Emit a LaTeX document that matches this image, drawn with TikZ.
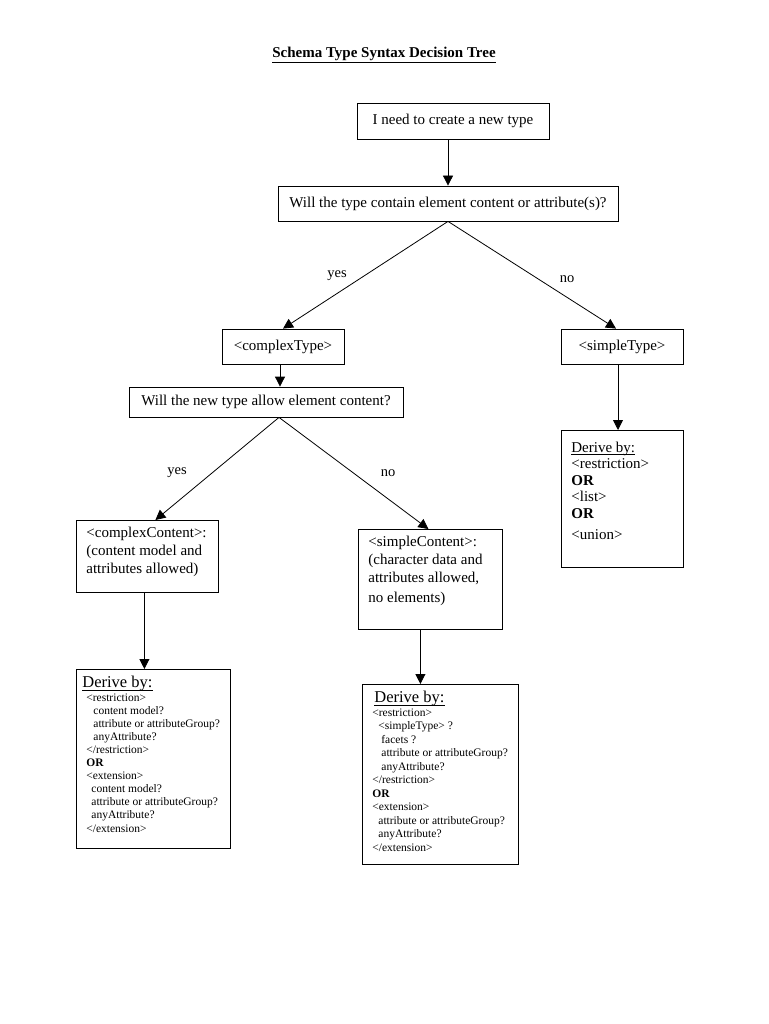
\documentclass[tikz,border=0pt]{standalone}
\usepackage{fontspec}
\setmainfont{Liberation Serif}
\usetikzlibrary{arrows.meta}
\newcommand{\boxpar}[3]{\parbox[c][#2][t]{#1}{\raggedright #3}}
\newcommand{\derivehead}{\setbox0\hbox{Derive by:}\rlap{\rule[-2.6pt]{\wd0}{0.6pt}}\raisebox{0pt}[\ht0][0pt]{\box0}}

\begin{document}
\begin{tikzpicture}[x=1pt, y=-1pt,
    box/.style={draw, line width=0.8pt, font=\fontsize{15}{18}\selectfont},
    tall/.style={box, anchor=north west, inner xsep=10pt, inner ysep=0pt},
    arr/.style={line width=0.8pt, -{Triangle[length=10pt,width=10pt]}},
    lbl/.style={font=\fontsize{14.5}{14.5}\selectfont}]
    \useasboundingbox (0,0) rectangle (768,1024);
    \node (title) at (384,55) {\fontsize{15}{18}\selectfont\textbf{\underline{Schema Type Syntax Decision Tree}}};
    \node[box, minimum width=192pt, minimum height=36pt] (need) at (453,121) {I need to create a new type};
    \node[box, minimum width=340pt, minimum height=35pt] (contain) at (448,203.5) {Will the type contain element content or attribute(s)?};
    \node[box, minimum width=122pt, minimum height=35pt] (ctype) at (283,346.5) {<complexType>};
    \node[box, minimum width=122pt, minimum height=35pt] (stype) at (622,346.5) {<simpleType>};
    \node[box, minimum width=274pt, minimum height=30pt] (allow) at (266,402) {Will the new type allow element content?};
    \node[tall] (ccont) at (76,520) {\boxpar{122pt}{72pt}{\rule{0pt}{17pt}<complexContent>:\\(content model and\\attributes allowed)}};
    \node[tall] (scont) at (358,529) {\boxpar{124pt}{100pt}{\rule{0pt}{17pt}<simpleContent>:\\(character data and\\attributes allowed,\\[2pt]no elements)}};
    \node[tall, inner xsep=10pt] (derC) at (561,430) {\boxpar{102pt}{137pt}{\fontsize{15}{16.5}\selectfont
        \rule{0pt}{22pt}\derivehead\\
        <restriction>\\
        \textbf{OR}\\
        <list>\\
        \textbf{OR}\\[5pt]
        <union>}};
    \node[tall, inner xsep=6pt] (derA) at (76,669) {\boxpar{142pt}{179pt}{%
        {\fontsize{16.5}{17}\selectfont\rule{0pt}{18.5pt}\derivehead\par}
        {\fontsize{11.5}{13.1}\selectfont
        \hspace*{4pt}<restriction>\\
        \hspace*{11pt}content model?\\
        \hspace*{11pt}attribute or attributeGroup?\\
        \hspace*{11pt}anyAttribute?\\
        \hspace*{4pt}</restriction>\\
        \hspace*{4pt}\textbf{OR}\\
        \hspace*{4pt}<extension>\\
        \hspace*{9pt}content model?\\
        \hspace*{9pt}attribute or attributeGroup?\\
        \hspace*{9pt}anyAttribute?\\
        \hspace*{4pt}</extension>\par}}};
    \node[tall, inner xsep=10pt] (derB) at (362,684) {\boxpar{136pt}{180pt}{%
        {\fontsize{16.5}{17}\selectfont\rule{0pt}{18.5pt}\hspace*{2pt}\derivehead\par}
        {\fontsize{11.5}{13.5}\selectfont
        <restriction>\\
        \hspace*{6pt}<simpleType> ?\\
        \hspace*{9pt}facets ?\\
        \hspace*{9pt}attribute or attributeGroup?\\
        \hspace*{9pt}anyAttribute?\\
        </restriction>\\
        \textbf{OR}\\
        <extension>\\
        \hspace*{6pt}attribute or attributeGroup?\\
        \hspace*{6pt}anyAttribute?\\
        </extension>\par}}};
    \node[lbl] (yesA) at (337,276) {yes};
    \node[lbl] (noA) at (567,279) {no};
    \node[lbl] (yesB) at (177,473) {yes};
    \node[lbl] (noB) at (388,473) {no};
    \draw[arr] (contain.north |- need.south) -- (contain.north);
    \draw[arr] (contain.south) -- (ctype.north);
    \draw[arr] (contain.south) -- ([xshift=-6pt]stype.north);
    \draw[arr] ([xshift=-3pt]ctype.south) -- ([xshift=-3pt]ctype.south |- allow.north);
    \coordinate (fork) at ([xshift=-4pt]ctype.south |- allow.south);
    \draw[arr] (fork) -- ([xshift=8pt]ccont.north);
    \draw[arr] (fork) -- ([xshift=-2pt]scont.north);
    \draw[arr] ([xshift=-4pt]stype.south) -- ([xshift=-4pt]stype.south |- derC.north);
    \draw[arr] ([xshift=-3pt]ccont.south) -- ([xshift=-3pt]ccont.south |- derA.north);
    \draw[arr] ([xshift=-10pt]scont.south) -- ([xshift=-10pt]scont.south |- derB.north);
\end{tikzpicture}
\end{document}
